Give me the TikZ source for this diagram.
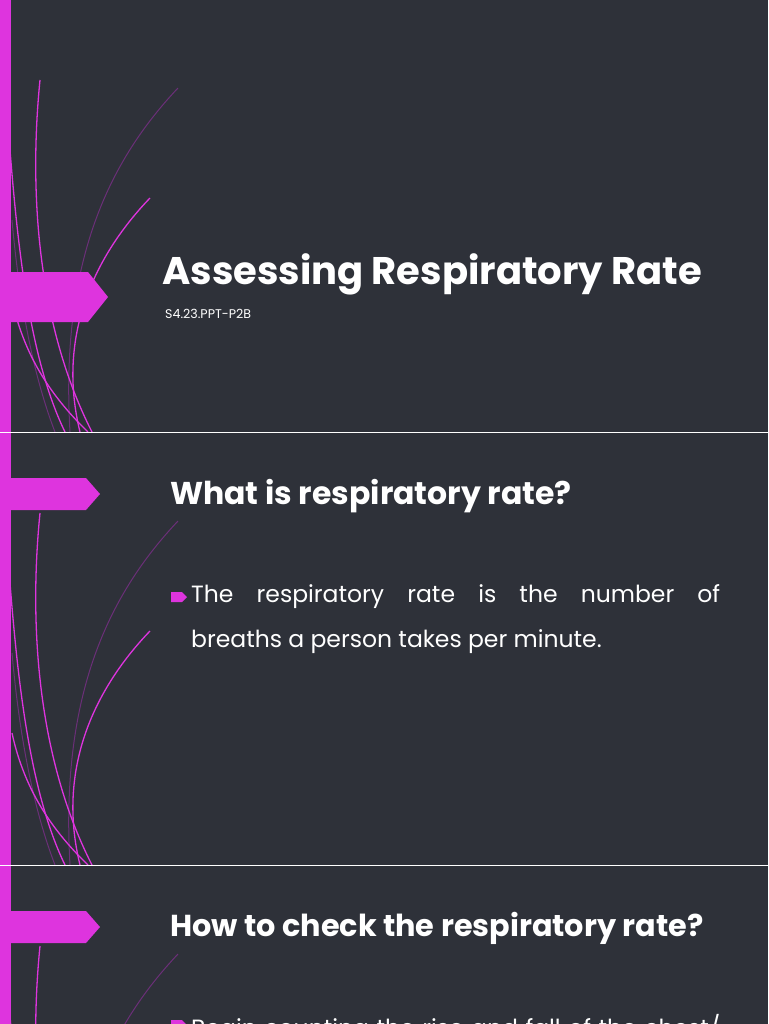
\documentclass[tikz,border=0pt]{standalone}
\usepackage{fontspec}
\setmainfont{Poppins}
\begin{document}
\begin{tikzpicture}[x=1pt,y=-1pt,
  mag/.style={draw=magc,line width=1.3pt},
  dim/.style={draw=dimc,line width=1pt},
  title/.style={anchor=west,text=white,inner sep=0pt,font=\fontsize{31.5}{31.5}\selectfont\bfseries},
  body/.style={anchor=west,text=white,inner sep=0pt,font=\fontsize{23.5}{23.5}\selectfont}]
\definecolor{bgc}{HTML}{2E3139}
\definecolor{magc}{HTML}{DE34DE}
\definecolor{dimc}{HTML}{6B2F78}
\useasboundingbox (0,0) rectangle (768,1024);
\fill[bgc] (0,0) rectangle (768,1024);
\clip (0,0) rectangle (768,1024);
\foreach \s in {0,433,866}{
\begin{scope}[yshift=-\s]
  \draw[dim] (178,88) .. controls (110,160) and (60,260) .. (70,432);
  \draw[mag] (150,198) .. controls (100,250) and (55,330) .. (80,432);
  \draw[mag] (40,80) .. controls (28,200) and (40,330) .. (92,432);
  \draw[mag] (10,150) .. controls (18,250) and (30,360) .. (65,432);
  \draw[dim] (12,220) .. controls (20,310) and (35,380) .. (55,432);
  \draw[mag] (12,300) .. controls (25,360) and (55,400) .. (88,432);
\end{scope}}
\fill[magc] (0,0) rectangle (11,1024);
\fill[magc] (0,272) -- (88,272) -- (108,297) -- (88,322) -- (0,322) -- cycle;
\fill[magc] (0,478) -- (86,478) -- (100,494) -- (86,510) -- (0,510) -- cycle;
\fill[magc] (0,911) -- (86,911) -- (100,927) -- (86,943) -- (0,943) -- cycle;
\draw[white,line width=0.8pt] (0,432.5) -- (768,432.5);
\draw[white,line width=0.8pt] (0,865.5) -- (768,865.5);
\node[title,font=\fontsize{38.5}{38.5}\selectfont\bfseries] (t1) at (162,274) {Assessing Respiratory Rate};
\node[anchor=west,text=white!75,inner sep=0pt,font=\fontsize{12.6}{12.6}\selectfont] (s1) at (165,314) {S4.23.PPT-P2B};
\node[title] (t2) at (170,496) {What is respiratory rate?};
\node[title,font=\fontsize{30.3}{30.3}\selectfont\bfseries] (t3) at (170,928) {How to check the respiratory rate?};
\fill[magc] (171,592) -- (182,592) -- (187,597) -- (182,602) -- (171,602) -- cycle;
\node[body] (b1) at (191,597) {\makebox[529pt][s]{The respiratory rate is the number of}};
\node[body] (b2) at (191,642) {breaths a person takes per minute.};
\fill[magc] (171,1020) -- (182,1020) -- (187,1025) -- (182,1030) -- (171,1030) -- cycle;
\node[body] (b3) at (191,1029) {\makebox[529pt][s]{Begin counting the rise and fall of the chest/}};
\end{tikzpicture}
\end{document}
